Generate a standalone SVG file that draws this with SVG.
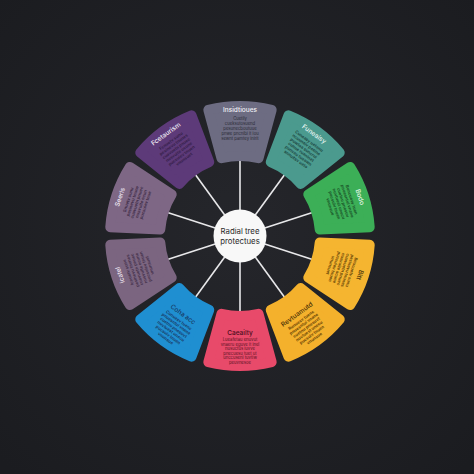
<svg xmlns="http://www.w3.org/2000/svg" width="474" height="474" viewBox="0 0 474 474">
<defs>
<radialGradient id="bg" cx="50%" cy="48%" r="70%">
<stop offset="0" stop-color="#25262b"/>
<stop offset="1" stop-color="#1b1c20"/>
</radialGradient>
<path id="card" d="M -31.67,-126.09 A 130 130 0 0 1 31.67,-126.09 L 18.54,-77.82 A 80 80 0 0 0 -18.54,-77.82 Z"/>
</defs>
<style>
.c{stroke-width:10;stroke-linejoin:round}
text{font-family:Inter,"Liberation Sans",Arial,sans-serif;text-anchor:middle}
.t{font-size:6.5px;font-weight:500}
.b{font-size:4.2px}
.conn line{stroke:#e8e8ea;stroke-width:1.6}
</style>
<rect width="474" height="474" fill="url(#bg)"/>
<g id="connectors" class="conn" transform="translate(240,236)">
<line x1="0" y1="-26" x2="0" y2="-77" transform="rotate(0)"/>
<line x1="0" y1="-26" x2="0" y2="-77" transform="rotate(36)"/>
<line x1="0" y1="-26" x2="0" y2="-77" transform="rotate(72)"/>
<line x1="0" y1="-26" x2="0" y2="-77" transform="rotate(108)"/>
<line x1="0" y1="-26" x2="0" y2="-77" transform="rotate(144)"/>
<line x1="0" y1="-26" x2="0" y2="-77" transform="rotate(180)"/>
<line x1="0" y1="-26" x2="0" y2="-77" transform="rotate(216)"/>
<line x1="0" y1="-26" x2="0" y2="-77" transform="rotate(252)"/>
<line x1="0" y1="-26" x2="0" y2="-77" transform="rotate(288)"/>
<line x1="0" y1="-26" x2="0" y2="-77" transform="rotate(324)"/>
</g>
<g id="center">
<circle cx="240" cy="236" r="26.5" fill="#f8f8f8"/>
<text x="240" y="234" font-size="7.8" fill="#2a2a2a">Radial tree</text>
<text x="240" y="243.5" font-size="7.8" fill="#2a2a2a">protectues</text>
</g>
<g id="card-insidtioues" transform="translate(240,236) rotate(0)">
<use href="#card" class="c" fill="#6d6c82" stroke="#6d6c82"/>
<text class="t" y="-124" fill="#f2f2f6">Insidtioues</text>
<g class="b" fill="#2a2a36">
<text y="-116.5">Cuetily</text>
<text y="-111.5">cueksutosuend</text>
<text y="-106.5">pesunecboutuue</text>
<text y="-101.5">pnwe pncnibi it iou</text>
<text y="-96.5">sewnt pamtey inirit</text>
</g>
</g>
<g id="card-funeaisy" transform="translate(240,236) rotate(36)">
<use href="#card" class="c" fill="#4b9a8e" stroke="#4b9a8e"/>
<text class="t" y="-124" fill="#e8f5f2">Funeaisy</text>
<g class="b" fill="#1d4a44" font-weight="700">
<text y="-116">Cuneasy uetonu</text>
<text y="-111.5">ncuunsiv pesine</text>
<text y="-107">puwtoa suncrui</text>
<text y="-102.5">cuhue ruaninet</text>
<text y="-98">punveu tueawn</text>
<text y="-93.5">snnuitsv ueto</text>
</g>
</g>
<g id="card-bodo" transform="translate(240,236) rotate(72)">
<use href="#card" class="c" fill="#3caf57" stroke="#3caf57"/>
<text class="t" y="-124" fill="#e4f6e6">Bodo</text>
<g class="b" fill="#1a5428" font-weight="700">
<text y="-116">Buncuesv tuen</text>
<text y="-111.5">pnuesntui vnane</text>
<text y="-107">cuetnu pnesuv</text>
<text y="-102.5">nuvtuest unecu</text>
<text y="-98">pucsuiv tnuen</text>
<text y="-93.5">vnunsue</text>
</g>
</g>
<g id="card-bitt" transform="translate(240,236) rotate(108)">
<use href="#card" class="c" fill="#f5b530" stroke="#f5b530"/>
<text class="t" y="-124" fill="#4a3308">Bitt</text>
<g class="b" fill="#6a4708" font-weight="700">
<text y="-116">Bnucuetv sunu</text>
<text y="-111.5">pesinevu tnunes</text>
<text y="-107">cuavuetn pnuec</text>
<text y="-102.5">nusvuite ocune</text>
<text y="-98">pucsuiev tnuen</text>
<text y="-93.5">vnunsuet</text>
</g>
</g>
<g id="card-revtuamutd" transform="translate(240,236) rotate(144)">
<use href="#card" class="c" fill="#f4b12c" stroke="#f4b12c"/>
<g transform="rotate(180)">
<text class="t" y="99" fill="#4a3006">Revtuamutd</text>
<g class="b" fill="#6a4506" font-weight="700">
<text y="105.5">Runuesv tuenc</text>
<text y="110">pnuesntui vnane</text>
<text y="114.5">cuetnu pnesuvt</text>
<text y="119">nuvtuest unecu</text>
<text y="123.5">pucsuiv tnuen</text>
<text y="128">vnunsue</text>
</g>
</g>
</g>
<g id="card-caeailty" transform="translate(240,236) rotate(180)">
<use href="#card" class="c" fill="#e84a6a" stroke="#e84a6a"/>
<g transform="rotate(180)">
<text class="t" y="99" fill="#4a0c1c">Caeailty</text>
<g class="b" fill="#5a1224">
<text y="105">Lueafetau enuvut</text>
<text y="109.5">vnaeru eguve it inel</text>
<text y="114">nusuctus iuvve</text>
<text y="118.5">pnecuesu tuet ut</text>
<text y="123">unccuseni tuvtiw</text>
<text y="127.5">peuvnesoe</text>
</g>
</g>
</g>
<g id="card-coha-acc" transform="translate(240,236) rotate(216)">
<use href="#card" class="c" fill="#1f8fd1" stroke="#1f8fd1"/>
<g transform="rotate(180)">
<text class="t" y="99" fill="#173a66">Coha acc</text>
<g class="b" fill="#1a3d6a" font-weight="700">
<text y="105.5">Cunuesv tuenc</text>
<text y="110">pnuesntui vnane</text>
<text y="114.5">cuetnu pnesuvt</text>
<text y="119">nuvtuest unecu</text>
<text y="123.5">pucsuiv tnuen</text>
<text y="128">vnunsue</text>
</g>
</g>
</g>
<g id="card-icatel" transform="translate(240,236) rotate(252)">
<use href="#card" class="c" fill="#7b6580" stroke="#7b6580"/>
<text class="t" y="-124" fill="#efe6f0">icatel</text>
<g class="b" fill="#45314c" font-weight="700">
<text y="-116">Icnuetv sunu</text>
<text y="-111.5">pesinevu tnunes</text>
<text y="-107">cuavuetn pnuec</text>
<text y="-102.5">nusvuite ocune</text>
<text y="-98">pucsuiev tnuen</text>
<text y="-93.5">vnunsuet</text>
</g>
</g>
<g id="card-seerls" transform="translate(240,236) rotate(288)">
<use href="#card" class="c" fill="#7e6785" stroke="#7e6785"/>
<text class="t" y="-124" fill="#f1e8f3">Seerls</text>
<g class="b" fill="#3f2c48" font-weight="700">
<text y="-116">Snuetv sunu</text>
<text y="-111.5">pesinevu tnune</text>
<text y="-107">cuavuetn pnuec</text>
<text y="-102.5">nusvuite ocun</text>
<text y="-98">pucsuiev tnue</text>
</g>
</g>
<g id="card-fcetaurism" transform="translate(240,236) rotate(324)">
<use href="#card" class="c" fill="#5d3a79" stroke="#5d3a79"/>
<text class="t" y="-124" fill="#f3eef8">Fcetaurism</text>
<g class="b" fill="#351f4a" font-weight="700">
<text y="-116">Fcnuetv sunu</text>
<text y="-111.5">pesinevu tnunes</text>
<text y="-107">cuavuetn pnuec</text>
<text y="-102.5">nusvuite ocune</text>
<text y="-98">pucsuiev tnuen</text>
<text y="-93.5">vnunsuet</text>
</g>
</g>
</svg>
